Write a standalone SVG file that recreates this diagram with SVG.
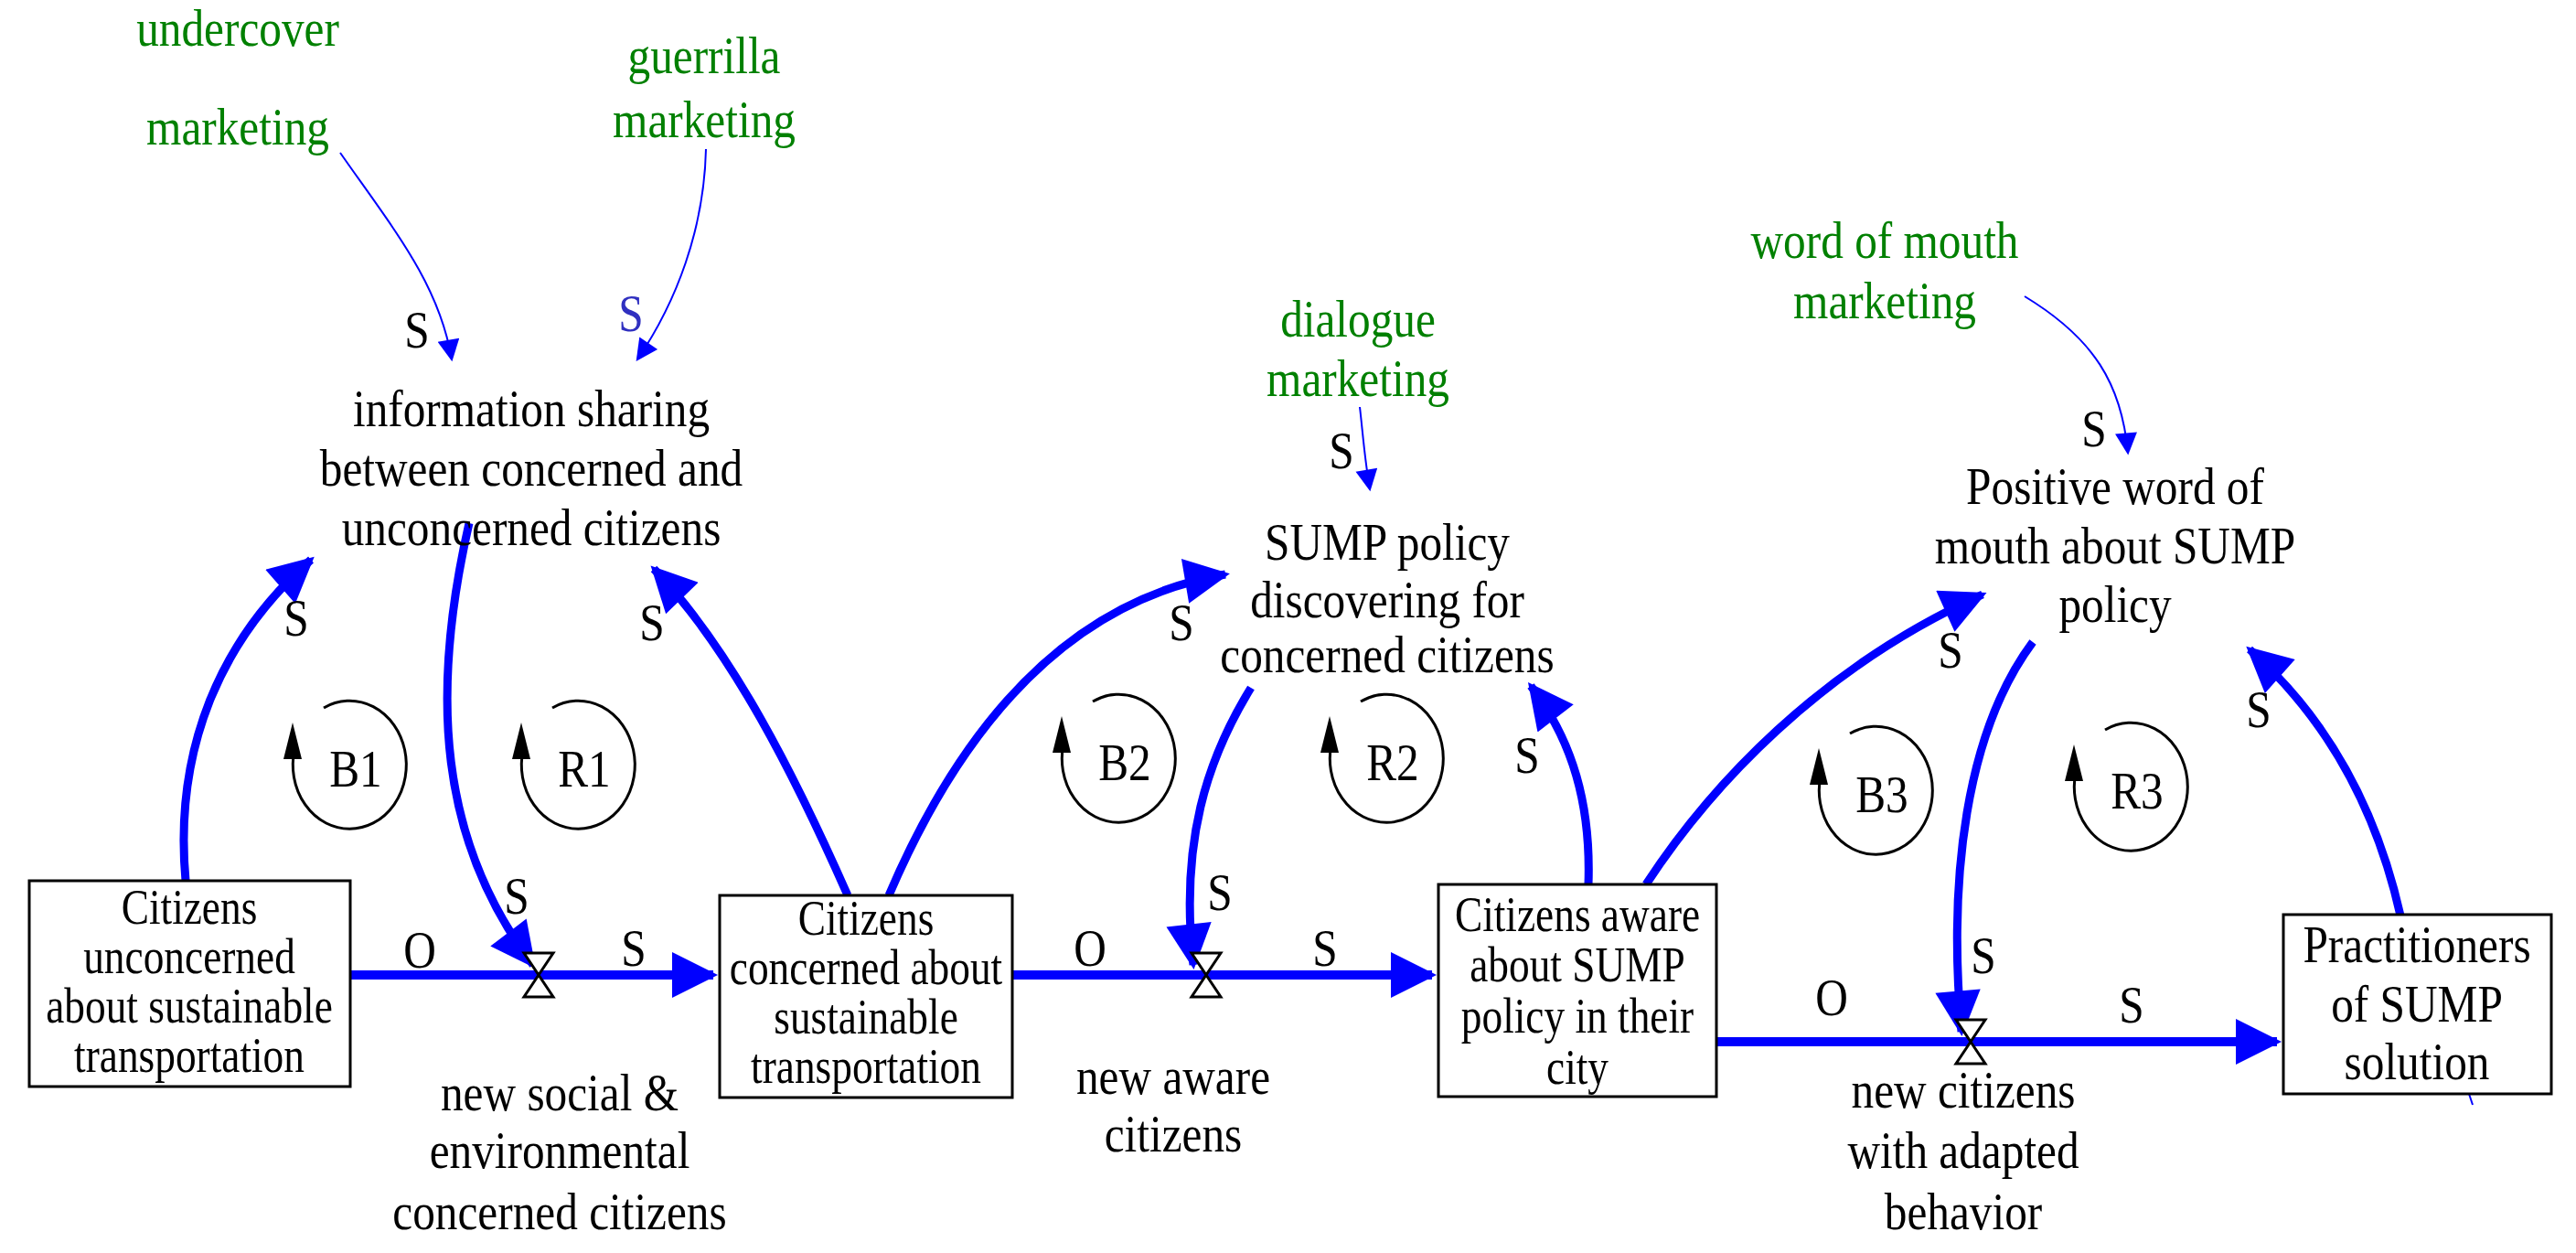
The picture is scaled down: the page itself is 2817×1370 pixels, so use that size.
<svg xmlns="http://www.w3.org/2000/svg" width="2817" height="1370" viewBox="0 0 2817 1370">
<style>
text{font-family:"Liberation Serif","Times New Roman",serif;font-size:58px;text-anchor:middle;fill:#000}
.bt{font-size:54px}
.g{fill:#008000}
.box{fill:#fff;stroke:#000;stroke-width:3}
.flow{stroke:#0000ff;stroke-width:10;fill:none}
.link{stroke:#0000ff;stroke-width:9;fill:none}
.thin{stroke:#0000ff;stroke-width:2;fill:none}
.loop{stroke:#000;stroke-width:3;fill:none}
.valve{fill:#fff;stroke:#000;stroke-width:3}
</style>
<defs>
<marker id="ah" viewBox="0 0 10 10" refX="9" refY="5" markerWidth="6" markerHeight="5.5" orient="auto" markerUnits="strokeWidth"><path d="M0,0L10,5L0,10z" fill="#0000ff"/></marker>
<marker id="af" viewBox="0 0 10 10" refX="9" refY="5" markerWidth="6" markerHeight="5" orient="auto" markerUnits="strokeWidth"><path d="M0,0L10,5L0,10z" fill="#0000ff"/></marker>
<marker id="at" viewBox="0 0 10 10" refX="9" refY="5" markerWidth="14" markerHeight="12" orient="auto" markerUnits="strokeWidth"><path d="M0,0L10,5L0,10z" fill="#0000ff"/></marker>
<path id="loopshape" d="M-52,-20 A62,70 0 1 0 -20,-66"/>
</defs>

<g id="connectors">
<path class="flow" d="M383,1066 H780" marker-end="url(#af)"/>
<path class="flow" d="M1107,1066 H1566" marker-end="url(#af)"/>
<path class="flow" d="M1877,1139 H2490" marker-end="url(#af)"/>
<path class="link" d="M203,963 C190,820 240,700 340,612" marker-end="url(#ah)"/>
<path class="link" d="M513,572 C470,760 480,920 583,1055" marker-end="url(#ah)"/>
<path class="link" d="M927,979 C870,850 800,710 715,622" marker-end="url(#ah)"/>
<path class="link" d="M972,979 C1040,820 1150,660 1340,628" marker-end="url(#ah)"/>
<path class="link" d="M1368,752 C1320,830 1290,920 1305,1055" marker-end="url(#ah)"/>
<path class="link" d="M1737,967 C1740,880 1720,810 1674,750" marker-end="url(#ah)"/>
<path class="link" d="M1800,967 C1870,860 1990,730 2168,650" marker-end="url(#ah)"/>
<path class="link" d="M2223,702 C2150,800 2130,960 2145,1128" marker-end="url(#ah)"/>
<path class="link" d="M2625,1001 C2600,890 2550,790 2460,710" marker-end="url(#ah)"/>
<path class="thin" d="M372,167 C430,250 480,310 494,393" marker-end="url(#at)"/>
<path class="thin" d="M772,163 C770,250 740,330 697,393" marker-end="url(#at)"/>
<path class="thin" d="M1487,445 C1490,470 1492,500 1498,535" marker-end="url(#at)"/>
<path class="thin" d="M2214,324 C2290,370 2320,420 2327,495" marker-end="url(#at)"/>
<path d="M2700,1196 l4,12" stroke="#0000ff" stroke-width="2"/>
</g>

<g id="valve1"><path class="valve" d="M573,1042 H605 L573,1090 H605 Z"/></g>
<g id="valve2"><path class="valve" d="M1303,1042 H1335 L1303,1090 H1335 Z"/></g>
<g id="valve3"><path class="valve" d="M2139,1115 H2171 L2139,1163 H2171 Z"/></g>

<g id="loops">
<g transform="translate(374,840)"><use href="#loopshape" class="loop"/><path d="M-64,-10 L-54,-50 L-44,-10 Z" fill="#000"/><text transform="translate(15 20) scale(.85 1)">B1</text></g>
<g transform="translate(624,840)"><use href="#loopshape" class="loop"/><path d="M-64,-10 L-54,-50 L-44,-10 Z" fill="#000"/><text transform="translate(15 20) scale(.85 1)">R1</text></g>
<g transform="translate(1215,833)"><use href="#loopshape" class="loop"/><path d="M-64,-10 L-54,-50 L-44,-10 Z" fill="#000"/><text transform="translate(15 20) scale(.85 1)">B2</text></g>
<g transform="translate(1508,833)"><use href="#loopshape" class="loop"/><path d="M-64,-10 L-54,-50 L-44,-10 Z" fill="#000"/><text transform="translate(15 20) scale(.85 1)">R2</text></g>
<g transform="translate(2043,868)"><use href="#loopshape" class="loop"/><path d="M-64,-10 L-54,-50 L-44,-10 Z" fill="#000"/><text transform="translate(15 20) scale(.85 1)">B3</text></g>
<g transform="translate(2322,864)"><use href="#loopshape" class="loop"/><path d="M-64,-10 L-54,-50 L-44,-10 Z" fill="#000"/><text transform="translate(15 20) scale(.85 1)">R3</text></g>
</g>

<g id="box1"><rect class="box" x="32" y="963" width="351" height="225"/>
<g transform="translate(207 0) scale(.84 1)"><text class="bt" x="0" y="1010">Citizens</text><text class="bt" x="0" y="1064">unconcerned</text><text class="bt" x="0" y="1118">about sustainable</text><text class="bt" x="0" y="1172">transportation</text></g></g>
<g id="box2"><rect class="box" x="787" y="979" width="320" height="221"/>
<g transform="translate(947 0) scale(.84 1)"><text class="bt" x="0" y="1022">Citizens</text><text class="bt" x="0" y="1076">concerned about</text><text class="bt" x="0" y="1130">sustainable</text><text class="bt" x="0" y="1184">transportation</text></g></g>
<g id="box3"><rect class="box" x="1573" y="967" width="304" height="232"/>
<g transform="translate(1725 0) scale(.84 1)"><text class="bt" x="0" y="1018">Citizens aware</text><text class="bt" x="0" y="1073">about SUMP</text><text class="bt" x="0" y="1129">policy in their</text><text class="bt" x="0" y="1185">city</text></g></g>
<g id="box4"><rect class="box" x="2497" y="1000" width="293" height="196"/>
<g transform="translate(2643 0) scale(.85 1)"><text x="0" y="1052">Practitioners</text><text x="0" y="1117">of SUMP</text><text x="0" y="1180">solution</text></g></g>

<g id="info" transform="translate(581 0) scale(.85 1)"><text x="0" y="466">information sharing</text><text x="0" y="531">between concerned and</text><text x="0" y="596">unconcerned citizens</text></g>
<g id="sump" transform="translate(1517 0) scale(.85 1)"><text x="0" y="612">SUMP policy</text><text x="0" y="675">discovering for</text><text x="0" y="735">concerned citizens</text></g>
<g id="positive" transform="translate(2313 0) scale(.85 1)"><text x="0" y="551">Positive word of</text><text x="0" y="616">mouth about SUMP</text><text x="0" y="680">policy</text></g>
<g id="flow1label" transform="translate(612 0) scale(.85 1)"><text x="0" y="1214">new social &amp;</text><text x="0" y="1277">environmental</text><text x="0" y="1344">concerned citizens</text></g>
<g id="flow2label" transform="translate(1283 0) scale(.85 1)"><text x="0" y="1196">new aware</text><text x="0" y="1259">citizens</text></g>
<g id="flow3label" transform="translate(2147 0) scale(.85 1)"><text x="0" y="1211">new citizens</text><text x="0" y="1277">with adapted</text><text x="0" y="1344">behavior</text></g>

<g id="undercover" transform="translate(260 0) scale(.85 1)"><text class="g" x="0" y="50">undercover</text><text class="g" x="0" y="158">marketing</text></g>
<g id="guerrilla" transform="translate(770 0) scale(.85 1)"><text class="g" x="0" y="80">guerrilla</text><text class="g" x="0" y="150">marketing</text></g>
<g id="dialogue" transform="translate(1485 0) scale(.85 1)"><text class="g" x="0" y="368">dialogue</text><text class="g" x="0" y="433">marketing</text></g>
<g id="wom" transform="translate(2061 0) scale(.85 1)"><text class="g" x="0" y="282">word of mouth</text><text class="g" x="0" y="348">marketing</text></g>

<g id="polarity">
<text transform="translate(456 380) scale(.85 1)">S</text><text transform="translate(690 362) scale(.85 1)" style="fill:#3030c0">S</text>
<text transform="translate(1467 512) scale(.85 1)">S</text><text transform="translate(2290 488) scale(.85 1)">S</text>
<text transform="translate(324 695) scale(.85 1)">S</text><text transform="translate(713 700) scale(.85 1)">S</text><text transform="translate(1292 700) scale(.85 1)">S</text><text transform="translate(1670 845) scale(.85 1)">S</text><text transform="translate(2133 730) scale(.85 1)">S</text><text transform="translate(2470 795) scale(.85 1)">S</text>
<text transform="translate(565 999) scale(.85 1)">S</text><text transform="translate(1334 995) scale(.85 1)">S</text><text transform="translate(2169 1064) scale(.85 1)">S</text>
<text transform="translate(459 1058) scale(.85 1)">O</text><text transform="translate(693 1056) scale(.85 1)">S</text>
<text transform="translate(1192 1056) scale(.85 1)">O</text><text transform="translate(1449 1056) scale(.85 1)">S</text>
<text transform="translate(2003 1110) scale(.85 1)">O</text><text transform="translate(2331 1118) scale(.85 1)">S</text>
</g>
</svg>
